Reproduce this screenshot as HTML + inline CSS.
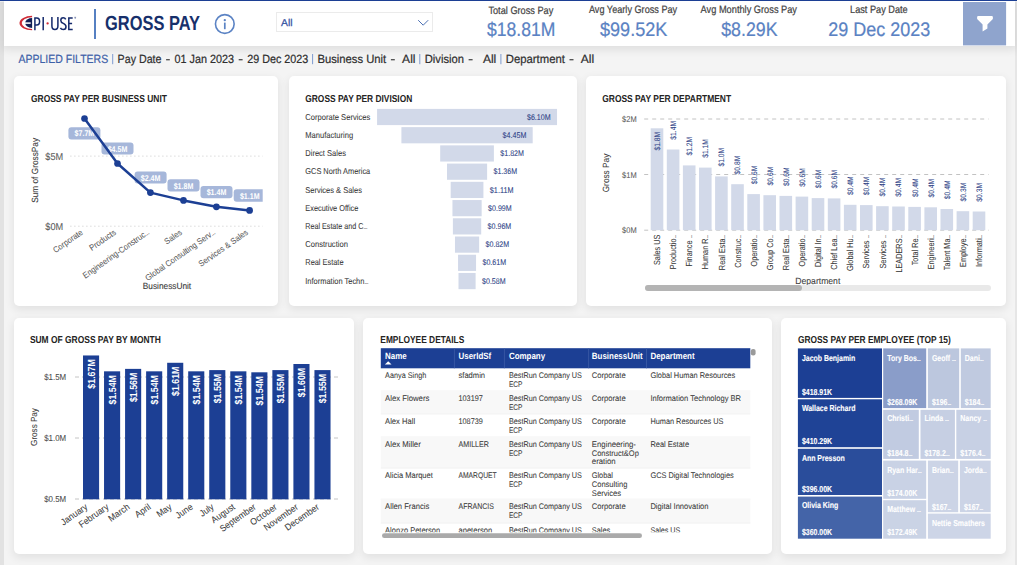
<!DOCTYPE html>
<html lang="en"><head><meta charset="utf-8"><title>Gross Pay</title>
<style>
html,body{margin:0;padding:0;background:#f4f4f4;}
body{width:1017px;height:565px;overflow:hidden;font-family:"Liberation Sans",sans-serif;}
.page{position:relative;width:1017px;height:565px;background:#f4f4f4;overflow:hidden;}
.edgeL{position:absolute;left:0;top:2px;width:3.5px;height:563px;background:#e2e2e2;}
.edgeR{position:absolute;left:1015.3px;top:2px;width:2px;height:563px;background:#e6e6e6;}
.hdr{position:absolute;left:3.5px;top:0;width:1011.8px;height:45.6px;background:#fff;box-shadow:0 2px 8px 2px rgba(0,0,0,.085);}
.topline{position:absolute;left:0;top:0;width:1017px;height:1.3px;background:#1c3f94;}
.card{position:absolute;background:#fff;border-radius:5px;box-shadow:0 3px 8px 1px rgba(0,0,0,.075);}
svg{position:absolute;left:0;top:0;}
svg text{font-family:"Liberation Sans",sans-serif;white-space:pre;text-rendering:geometricPrecision;}
</style></head><body>
<div class="page">
<div class="edgeL"></div><div class="edgeR"></div>
<div class="hdr"></div>
<div class="topline"></div>
<div class="card" style="left:14.3px;top:76px;width:263.5px;height:230px"></div>
<div class="card" style="left:289px;top:76px;width:288px;height:230px"></div>
<div class="card" style="left:586px;top:76px;width:420.3px;height:230px"></div>
<div class="card" style="left:13.5px;top:318px;width:340.5px;height:235.6px"></div>
<div class="card" style="left:363px;top:318px;width:409.3px;height:235.6px"></div>
<div class="card" style="left:781.2px;top:318px;width:225px;height:235.6px"></div>
<svg width="1017" height="565" viewBox="0 0 1017 565">
<g id="logo">
<path d="M32.1,15.8 A12.6,7.25 0 0 0 32.1,30.3 L32.1,28.9 A10.4,5.85 0 0 1 32.1,17.2 Z" fill="#cf2a35"/>
<path d="M32.1,18.1 A6.9,4.95 0 0 0 32.1,28 Z" fill="#111f55"/>
<rect x="24.40" y="22.35" width="6.30" height="1.50" fill="#fff"/>
<g fill="none" stroke="#14296b" stroke-width="1.5">
<path d="M34.9,30.3 V17.9 H36.7 Q39.6,17.9 39.6,21.4 Q39.6,24.9 36.7,24.9 H34.9"/>
<path d="M43.2,17.1 V30.3"/>
<path d="M51.9,17.1 V26 Q51.9,29.5 54.9,29.5 Q57.9,29.5 57.9,26 V17.1"/>
<path d="M65.7,19.4 Q65,17.8 63.2,17.8 Q60.8,17.8 60.8,20.4 Q60.8,22.4 63.3,23.4 Q66,24.5 66,26.8 Q66,29.6 63.3,29.6 Q61.2,29.6 60.4,27.9"/>
<path d="M72.7,17.9 H68.8 V29.5 H72.7 M68.8,23.5 H72.1"/>
</g>
<circle cx="47.6" cy="23.4" r="1.15" fill="#cf2a35"/>
<path d="M74.3,17.3 h1.8 M75.2,17.3 v1.7" stroke="#14296b" stroke-width="0.45" fill="none"/>
</g>
<rect x="94.00" y="9.00" width="2.00" height="30.00" fill="#5680c2"/>
<text transform="translate(105.00,30.30) scale(0.8057,1)" font-size="20.4" fill="#17306b" font-weight="700">GROSS PAY</text>
<circle cx="224.8" cy="24" r="9.35" fill="none" stroke="#5b83c4" stroke-width="1.6"/>
<circle cx="224.8" cy="20.2" r="1.15" fill="#5b83c4"/>
<rect x="223.95" y="22.60" width="1.70" height="6.60" fill="#5b83c4"/>
<rect x="276.5" y="12.5" width="156" height="19" fill="#fff" stroke="#ebebeb" stroke-width="1"/>
<text transform="translate(281.00,25.70) scale(1.0347,1)" font-size="10" fill="#33519f" stroke="#33519f" stroke-width="0.25">All</text>
<path d="M418.2,20.2 L423.2,25.2 L428.2,20.2" fill="none" stroke="#4b6fb3" stroke-width="1"/>
<text transform="translate(488.40,13.80) scale(0.8607,1)" font-size="10.7" fill="#454545" stroke="#454545" stroke-width="0.22">Total Gross Pay</text>
<text transform="translate(487.10,35.80) scale(0.8954,1)" font-size="19.6" fill="#5a82c3" stroke="#5a82c3" stroke-width="0.22">$18.81M</text>
<text transform="translate(588.90,13.00) scale(0.8558,1)" font-size="10.7" fill="#454545" stroke="#454545" stroke-width="0.22">Avg Yearly Gross Pay</text>
<text transform="translate(600.00,35.60) scale(0.9230,1)" font-size="19.6" fill="#5a82c3" stroke="#5a82c3" stroke-width="0.22">$99.52K</text>
<text transform="translate(700.60,13.00) scale(0.8647,1)" font-size="10.7" fill="#454545" stroke="#454545" stroke-width="0.22">Avg Monthly Gross Pay</text>
<text transform="translate(721.20,35.50) scale(0.9063,1)" font-size="19.6" fill="#5a82c3" stroke="#5a82c3" stroke-width="0.22">$8.29K</text>
<text transform="translate(850.10,13.00) scale(0.8570,1)" font-size="10.7" fill="#454545" stroke="#454545" stroke-width="0.22">Last Pay Date</text>
<text transform="translate(828.30,35.50) scale(0.9168,1)" font-size="19.6" fill="#5a82c3" stroke="#5a82c3" stroke-width="0.22">29 Dec 2023</text>
<rect x="963.00" y="2.00" width="43.10" height="43.40" fill="#8fa4cd"/>
<path d="M978.2,16 H991.8 Q992.9,16 992.9,17.2 V18.4 Q992.9,19 992.4,19.5 L987.4,24.4 V28.6 L982.6,31.4 V24.4 L977.6,19.5 Q977.1,19 977.1,18.4 V17.2 Q977.1,16 978.2,16 Z" fill="#fff"/>
<text transform="translate(18.50,63.10) scale(0.8827,1)" font-size="11.9" fill="#3d60a8" stroke="#3d60a8" stroke-width="0.22">APPLIED FILTERS</text>
<rect x="112.20" y="54.00" width="1.00" height="10.20" fill="#7d9bd0"/>
<text transform="translate(117.60,63.10) scale(0.8969,1)" font-size="11.9" fill="#2f2f2f" stroke="#2f2f2f" stroke-width="0.22">Pay Date</text>
<rect x="166.10" y="59.20" width="3.70" height="1.10" fill="#2f2f2f"/>
<text transform="translate(174.60,63.10) scale(0.9083,1)" font-size="11.9" fill="#2f2f2f" stroke="#2f2f2f" stroke-width="0.22">01 Jan 2023</text>
<rect x="238.70" y="59.20" width="3.90" height="1.10" fill="#2f2f2f"/>
<text transform="translate(247.20,63.10) scale(0.9039,1)" font-size="11.9" fill="#2f2f2f" stroke="#2f2f2f" stroke-width="0.22">29 Dec 2023</text>
<rect x="312.10" y="54.00" width="1.00" height="10.20" fill="#7d9bd0"/>
<text transform="translate(317.40,63.10) scale(0.9470,1)" font-size="11.9" fill="#2f2f2f" stroke="#2f2f2f" stroke-width="0.22">Business Unit</text>
<rect x="390.90" y="59.20" width="3.90" height="1.10" fill="#2f2f2f"/>
<text transform="translate(402.10,63.10) scale(1.0132,1)" font-size="11.9" fill="#2f2f2f" stroke="#2f2f2f" stroke-width="0.22">All</text>
<rect x="419.30" y="54.00" width="1.00" height="10.20" fill="#7d9bd0"/>
<text transform="translate(424.70,63.10) scale(0.9433,1)" font-size="11.9" fill="#2f2f2f" stroke="#2f2f2f" stroke-width="0.22">Division</text>
<rect x="468.60" y="59.20" width="4.00" height="1.10" fill="#2f2f2f"/>
<text transform="translate(482.90,63.10) scale(1.0132,1)" font-size="11.9" fill="#2f2f2f" stroke="#2f2f2f" stroke-width="0.22">All</text>
<rect x="500.40" y="54.00" width="1.00" height="10.20" fill="#7d9bd0"/>
<text transform="translate(505.80,63.10) scale(0.9505,1)" font-size="11.9" fill="#2f2f2f" stroke="#2f2f2f" stroke-width="0.22">Department</text>
<rect x="569.50" y="59.20" width="4.00" height="1.10" fill="#2f2f2f"/>
<text transform="translate(580.80,63.10) scale(1.0132,1)" font-size="11.9" fill="#2f2f2f" stroke="#2f2f2f" stroke-width="0.22">All</text>
<text transform="translate(31.00,102.00) scale(0.8365,1)" font-size="10.1" fill="#252423" font-weight="700">GROSS PAY PER BUSINESS UNIT</text>
<line x1="70.40" y1="156.10" x2="262.70" y2="156.10" stroke="#c8c8c8" stroke-width="1" stroke-dasharray="1 3"/>
<line x1="70.40" y1="226.20" x2="262.70" y2="226.20" stroke="#c8c8c8" stroke-width="1" stroke-dasharray="1 3"/>
<text transform="translate(63.20,159.50) scale(0.9200,1)" font-size="10" fill="#5a5a5a" text-anchor="end" stroke="#5a5a5a" stroke-width="0.08">$5M</text>
<text transform="translate(63.20,229.60) scale(0.9200,1)" font-size="10" fill="#5a5a5a" text-anchor="end" stroke="#5a5a5a" stroke-width="0.08">$0M</text>
<text transform="translate(38.20,170.40) rotate(-90) scale(0.9200,1)" font-size="9" fill="#3a3a3a" text-anchor="middle" stroke="#3a3a3a" stroke-width="0.1">Sum of GrossPay</text>
<clipPath id="c1clip"><rect x="60" y="100" width="202.7" height="140"/></clipPath>
<g clip-path="url(#c1clip)">
<rect x="68.40" y="127.30" width="32.00" height="12.10" fill="#a6b7da" rx="3"/>
<text transform="translate(84.40,136.40) scale(0.8438,1)" font-size="8.4" fill="#fff" text-anchor="middle" font-weight="700">$7.7M</text>
<rect x="101.50" y="142.40" width="32.00" height="12.10" fill="#a6b7da" rx="3"/>
<text transform="translate(117.50,151.50) scale(0.8438,1)" font-size="8.4" fill="#fff" text-anchor="middle" font-weight="700">$4.5M</text>
<rect x="134.60" y="171.50" width="32.00" height="12.10" fill="#a6b7da" rx="3"/>
<text transform="translate(150.60,180.60) scale(0.8438,1)" font-size="8.4" fill="#fff" text-anchor="middle" font-weight="700">$2.4M</text>
<rect x="167.50" y="179.30" width="32.00" height="12.20" fill="#a6b7da" rx="3"/>
<text transform="translate(183.50,188.50) scale(0.8438,1)" font-size="8.4" fill="#fff" text-anchor="middle" font-weight="700">$1.8M</text>
<rect x="200.50" y="186.00" width="32.00" height="12.30" fill="#a6b7da" rx="3"/>
<text transform="translate(216.50,195.30) scale(0.8438,1)" font-size="8.4" fill="#fff" text-anchor="middle" font-weight="700">$1.4M</text>
<rect x="233.70" y="189.30" width="32.00" height="12.40" fill="#a6b7da" rx="3"/>
<text transform="translate(249.70,198.70) scale(0.8438,1)" font-size="8.4" fill="#fff" text-anchor="middle" font-weight="700">$1.1M</text>
</g>
<path d="M84.5,118.5 L117.5,163.5 L150.4,192.6 L183.5,200.4 L216.4,206.8 L249.6,210.4" fill="none" stroke="#1c3f94" stroke-width="2.5" stroke-linejoin="round"/>
<circle cx="84.5" cy="118.5" r="3.35" fill="#1c3f94"/>
<circle cx="117.5" cy="163.5" r="3.35" fill="#1c3f94"/>
<circle cx="150.4" cy="192.6" r="3.35" fill="#1c3f94"/>
<circle cx="183.5" cy="200.4" r="3.35" fill="#1c3f94"/>
<circle cx="216.4" cy="206.8" r="3.35" fill="#1c3f94"/>
<circle cx="249.6" cy="210.4" r="3.35" fill="#1c3f94"/>
<text transform="translate(83.60,233.70) rotate(-35) scale(0.9050,1)" font-size="8.5" fill="#5a5a5a" text-anchor="end" stroke="#5a5a5a" stroke-width="0.05">Corporate</text>
<text transform="translate(116.60,233.70) rotate(-35) scale(0.9050,1)" font-size="8.5" fill="#5a5a5a" text-anchor="end" stroke="#5a5a5a" stroke-width="0.05">Products</text>
<text transform="translate(149.50,233.70) rotate(-35) scale(0.9050,1)" font-size="8.5" fill="#5a5a5a" text-anchor="end" stroke="#5a5a5a" stroke-width="0.05">Engineering-Construc<tspan font-size="6.12" letter-spacing="-0.2">...</tspan></text>
<text transform="translate(182.60,233.70) rotate(-35) scale(0.9050,1)" font-size="8.5" fill="#5a5a5a" text-anchor="end" stroke="#5a5a5a" stroke-width="0.05">Sales</text>
<text transform="translate(215.50,233.70) rotate(-35) scale(0.9050,1)" font-size="8.5" fill="#5a5a5a" text-anchor="end" stroke="#5a5a5a" stroke-width="0.05">Global Consulting Serv<tspan font-size="6.12" letter-spacing="-0.2">...</tspan></text>
<text transform="translate(248.70,233.70) rotate(-35) scale(0.9050,1)" font-size="8.5" fill="#5a5a5a" text-anchor="end" stroke="#5a5a5a" stroke-width="0.05">Services &amp; Sales</text>
<text transform="translate(167.00,288.60) scale(0.9200,1)" font-size="9" fill="#3a3a3a" text-anchor="middle" stroke="#3a3a3a" stroke-width="0.12">BusinessUnit</text>
<text transform="translate(305.30,102.00) scale(0.8300,1)" font-size="10.1" fill="#252423" font-weight="700">GROSS PAY PER DIVISION</text>
<rect x="377.08" y="108.90" width="179.95" height="16.20" fill="#d2d9e9"/>
<text transform="translate(305.30,119.60) scale(0.8920,1)" font-size="8.5" fill="#3a3a3a" stroke="#3a3a3a" stroke-width="0.07">Corporate Services</text>
<text transform="translate(550.62,119.60) scale(0.8665,1)" font-size="8.2" fill="#2d3f86" text-anchor="end" stroke="#2d3f86" stroke-width="0.07">$6.10M</text>
<rect x="401.41" y="127.13" width="131.28" height="16.20" fill="#d2d9e9"/>
<text transform="translate(305.30,137.83) scale(0.8874,1)" font-size="8.5" fill="#3a3a3a" stroke="#3a3a3a" stroke-width="0.07">Manufacturing</text>
<text transform="translate(526.29,137.83) scale(0.8665,1)" font-size="8.2" fill="#2d3f86" text-anchor="end" stroke="#2d3f86" stroke-width="0.07">$4.45M</text>
<rect x="440.20" y="145.36" width="53.69" height="16.20" fill="#d2d9e9"/>
<text transform="translate(305.30,156.06) scale(0.8860,1)" font-size="8.5" fill="#3a3a3a" stroke="#3a3a3a" stroke-width="0.07">Direct Sales</text>
<text transform="translate(500.30,156.06) scale(0.8665,1)" font-size="8.2" fill="#2d3f86" stroke="#2d3f86" stroke-width="0.07">$1.82M</text>
<rect x="446.99" y="163.59" width="40.12" height="16.20" fill="#d2d9e9"/>
<text transform="translate(305.30,174.29) scale(0.8696,1)" font-size="8.5" fill="#3a3a3a" stroke="#3a3a3a" stroke-width="0.07">GCS North America</text>
<text transform="translate(493.51,174.29) scale(0.8665,1)" font-size="8.2" fill="#2d3f86" stroke="#2d3f86" stroke-width="0.07">$1.36M</text>
<rect x="450.68" y="181.82" width="32.75" height="16.20" fill="#d2d9e9"/>
<text transform="translate(305.30,192.52) scale(0.8809,1)" font-size="8.5" fill="#3a3a3a" stroke="#3a3a3a" stroke-width="0.07">Services &amp; Sales</text>
<text transform="translate(489.82,192.52) scale(0.8862,1)" font-size="8.2" fill="#2d3f86" stroke="#2d3f86" stroke-width="0.07">$1.11M</text>
<rect x="452.45" y="200.05" width="29.20" height="16.20" fill="#d2d9e9"/>
<text transform="translate(305.30,210.75) scale(0.8652,1)" font-size="8.5" fill="#3a3a3a" stroke="#3a3a3a" stroke-width="0.07">Executive Office</text>
<text transform="translate(488.05,210.75) scale(0.8665,1)" font-size="8.2" fill="#2d3f86" stroke="#2d3f86" stroke-width="0.07">$0.99M</text>
<rect x="452.89" y="218.28" width="28.32" height="16.20" fill="#d2d9e9"/>
<text transform="translate(305.30,228.98) scale(0.8427,1)" font-size="8.5" fill="#3a3a3a" stroke="#3a3a3a" stroke-width="0.07">Real Estate and C<tspan font-size="6.12" letter-spacing="-0.2">...</tspan></text>
<text transform="translate(487.61,228.98) scale(0.8665,1)" font-size="8.2" fill="#2d3f86" stroke="#2d3f86" stroke-width="0.07">$0.96M</text>
<rect x="454.96" y="236.51" width="24.19" height="16.20" fill="#d2d9e9"/>
<text transform="translate(305.30,247.21) scale(0.8927,1)" font-size="8.5" fill="#3a3a3a" stroke="#3a3a3a" stroke-width="0.07">Construction</text>
<text transform="translate(485.54,247.21) scale(0.8665,1)" font-size="8.2" fill="#2d3f86" stroke="#2d3f86" stroke-width="0.07">$0.82M</text>
<rect x="458.05" y="254.74" width="18.00" height="16.20" fill="#d2d9e9"/>
<text transform="translate(305.30,265.44) scale(0.8693,1)" font-size="8.5" fill="#3a3a3a" stroke="#3a3a3a" stroke-width="0.07">Real Estate</text>
<text transform="translate(482.45,265.44) scale(0.8665,1)" font-size="8.2" fill="#2d3f86" stroke="#2d3f86" stroke-width="0.07">$0.61M</text>
<rect x="458.50" y="272.97" width="17.11" height="16.20" fill="#d2d9e9"/>
<text transform="translate(305.30,283.67) scale(0.8766,1)" font-size="8.5" fill="#3a3a3a" stroke="#3a3a3a" stroke-width="0.07">Information Techn<tspan font-size="6.12" letter-spacing="-0.2">...</tspan></text>
<text transform="translate(482.00,283.67) scale(0.8665,1)" font-size="8.2" fill="#2d3f86" stroke="#2d3f86" stroke-width="0.07">$0.58M</text>
<text transform="translate(602.20,102.00) scale(0.8378,1)" font-size="10.1" fill="#252423" font-weight="700">GROSS PAY PER DEPARTMENT</text>
<line x1="644.20" y1="119.00" x2="988.70" y2="119.00" stroke="#c2c2c2" stroke-width="1" stroke-dasharray="4 4"/>
<line x1="644.20" y1="174.50" x2="988.70" y2="174.50" stroke="#c2c2c2" stroke-width="1" stroke-dasharray="4 4"/>
<line x1="644.20" y1="230.20" x2="988.70" y2="230.20" stroke="#c2c2c2" stroke-width="1" stroke-dasharray="4 4"/>
<text transform="translate(636.60,121.70) scale(0.9000,1)" font-size="8.3" fill="#5a5a5a" text-anchor="end" stroke="#5a5a5a" stroke-width="0.07">$2M</text>
<text transform="translate(636.60,177.60) scale(0.9000,1)" font-size="8.3" fill="#5a5a5a" text-anchor="end" stroke="#5a5a5a" stroke-width="0.07">$1M</text>
<text transform="translate(636.60,233.20) scale(0.9000,1)" font-size="8.3" fill="#5a5a5a" text-anchor="end" stroke="#5a5a5a" stroke-width="0.07">$0M</text>
<text transform="translate(609.00,173.00) rotate(-90) scale(0.9200,1)" font-size="9" fill="#3a3a3a" text-anchor="middle" stroke="#3a3a3a" stroke-width="0.07">Gross Pay</text>
<rect x="650.70" y="128.30" width="12.60" height="101.90" fill="#d2d9e9"/>
<text transform="translate(659.90,150.60) rotate(-90) scale(0.8410,1)" font-size="8" fill="#2d3f86" stroke="#2d3f86" stroke-width="0.07">$1.8M</text>
<text transform="translate(660.10,234.60) rotate(-90) scale(0.8300,1)" font-size="8.8" fill="#3a3a3a" text-anchor="end" stroke="#3a3a3a" stroke-width="0.07">Sales US</text>
<rect x="666.80" y="149.50" width="12.60" height="80.70" fill="#d2d9e9"/>
<text transform="translate(676.00,139.70) rotate(-90) scale(0.8410,1)" font-size="8" fill="#2d3f86" stroke="#2d3f86" stroke-width="0.07">$1.4M</text>
<text transform="translate(676.20,234.60) rotate(-90) scale(0.8300,1)" font-size="8.8" fill="#3a3a3a" text-anchor="end" stroke="#3a3a3a" stroke-width="0.07">Productio<tspan font-size="6.34" letter-spacing="-0.2">...</tspan></text>
<rect x="682.90" y="165.40" width="12.60" height="64.80" fill="#d2d9e9"/>
<text transform="translate(692.10,155.60) rotate(-90) scale(0.8410,1)" font-size="8" fill="#2d3f86" stroke="#2d3f86" stroke-width="0.07">$1.2M</text>
<text transform="translate(692.30,234.60) rotate(-90) scale(0.8300,1)" font-size="8.8" fill="#3a3a3a" text-anchor="end" stroke="#3a3a3a" stroke-width="0.07">Finance <tspan font-size="6.34" letter-spacing="-0.2">...</tspan></text>
<rect x="699.00" y="167.60" width="12.60" height="62.60" fill="#d2d9e9"/>
<text transform="translate(708.20,157.80) rotate(-90) scale(0.8410,1)" font-size="8" fill="#2d3f86" stroke="#2d3f86" stroke-width="0.07">$1.1M</text>
<text transform="translate(708.40,234.60) rotate(-90) scale(0.8300,1)" font-size="8.8" fill="#3a3a3a" text-anchor="end" stroke="#3a3a3a" stroke-width="0.07">Human R<tspan font-size="6.34" letter-spacing="-0.2">...</tspan></text>
<rect x="715.10" y="176.40" width="12.60" height="53.80" fill="#d2d9e9"/>
<text transform="translate(724.30,166.60) rotate(-90) scale(0.8410,1)" font-size="8" fill="#2d3f86" stroke="#2d3f86" stroke-width="0.07">$1.0M</text>
<text transform="translate(724.50,234.60) rotate(-90) scale(0.8300,1)" font-size="8.8" fill="#3a3a3a" text-anchor="end" stroke="#3a3a3a" stroke-width="0.07">Real Esta<tspan font-size="6.34" letter-spacing="-0.2">...</tspan></text>
<rect x="731.20" y="184.20" width="12.60" height="46.00" fill="#d2d9e9"/>
<text transform="translate(740.40,174.40) rotate(-90) scale(0.8410,1)" font-size="8" fill="#2d3f86" stroke="#2d3f86" stroke-width="0.07">$0.8M</text>
<text transform="translate(740.60,234.60) rotate(-90) scale(0.8300,1)" font-size="8.8" fill="#3a3a3a" text-anchor="end" stroke="#3a3a3a" stroke-width="0.07">Construc<tspan font-size="6.34" letter-spacing="-0.2">...</tspan></text>
<rect x="747.30" y="194.10" width="12.60" height="36.10" fill="#d2d9e9"/>
<text transform="translate(756.50,184.30) rotate(-90) scale(0.8410,1)" font-size="8" fill="#2d3f86" stroke="#2d3f86" stroke-width="0.07">$0.6M</text>
<text transform="translate(756.70,234.60) rotate(-90) scale(0.8300,1)" font-size="8.8" fill="#3a3a3a" text-anchor="end" stroke="#3a3a3a" stroke-width="0.07">Operatio<tspan font-size="6.34" letter-spacing="-0.2">...</tspan></text>
<rect x="763.40" y="195.20" width="12.60" height="35.00" fill="#d2d9e9"/>
<text transform="translate(772.60,185.40) rotate(-90) scale(0.8410,1)" font-size="8" fill="#2d3f86" stroke="#2d3f86" stroke-width="0.07">$0.6M</text>
<text transform="translate(772.80,234.60) rotate(-90) scale(0.8300,1)" font-size="8.8" fill="#3a3a3a" text-anchor="end" stroke="#3a3a3a" stroke-width="0.07">Group Co<tspan font-size="6.34" letter-spacing="-0.2">...</tspan></text>
<rect x="779.50" y="195.90" width="12.60" height="34.30" fill="#d2d9e9"/>
<text transform="translate(788.70,186.10) rotate(-90) scale(0.8410,1)" font-size="8" fill="#2d3f86" stroke="#2d3f86" stroke-width="0.07">$0.6M</text>
<text transform="translate(788.90,234.60) rotate(-90) scale(0.8300,1)" font-size="8.8" fill="#3a3a3a" text-anchor="end" stroke="#3a3a3a" stroke-width="0.07">Real Esta<tspan font-size="6.34" letter-spacing="-0.2">...</tspan></text>
<rect x="795.60" y="196.60" width="12.60" height="33.60" fill="#d2d9e9"/>
<text transform="translate(804.80,186.80) rotate(-90) scale(0.8410,1)" font-size="8" fill="#2d3f86" stroke="#2d3f86" stroke-width="0.07">$0.6M</text>
<text transform="translate(805.00,234.60) rotate(-90) scale(0.8300,1)" font-size="8.8" fill="#3a3a3a" text-anchor="end" stroke="#3a3a3a" stroke-width="0.07">Operatio<tspan font-size="6.34" letter-spacing="-0.2">...</tspan></text>
<rect x="811.70" y="198.10" width="12.60" height="32.10" fill="#d2d9e9"/>
<text transform="translate(820.90,188.30) rotate(-90) scale(0.8410,1)" font-size="8" fill="#2d3f86" stroke="#2d3f86" stroke-width="0.07">$0.6M</text>
<text transform="translate(821.10,234.60) rotate(-90) scale(0.8300,1)" font-size="8.8" fill="#3a3a3a" text-anchor="end" stroke="#3a3a3a" stroke-width="0.07">Digital In<tspan font-size="6.34" letter-spacing="-0.2">...</tspan></text>
<rect x="827.80" y="198.40" width="12.60" height="31.80" fill="#d2d9e9"/>
<text transform="translate(837.00,188.60) rotate(-90) scale(0.8410,1)" font-size="8" fill="#2d3f86" stroke="#2d3f86" stroke-width="0.07">$0.6M</text>
<text transform="translate(837.20,234.60) rotate(-90) scale(0.8300,1)" font-size="8.8" fill="#3a3a3a" text-anchor="end" stroke="#3a3a3a" stroke-width="0.07">Chief Lea<tspan font-size="6.34" letter-spacing="-0.2">...</tspan></text>
<rect x="843.90" y="204.80" width="12.60" height="25.40" fill="#d2d9e9"/>
<text transform="translate(853.10,195.00) rotate(-90) scale(0.8410,1)" font-size="8" fill="#2d3f86" stroke="#2d3f86" stroke-width="0.07">$0.4M</text>
<text transform="translate(853.30,234.60) rotate(-90) scale(0.8300,1)" font-size="8.8" fill="#3a3a3a" text-anchor="end" stroke="#3a3a3a" stroke-width="0.07">Global Hu<tspan font-size="6.34" letter-spacing="-0.2">...</tspan></text>
<rect x="860.00" y="205.10" width="12.60" height="25.10" fill="#d2d9e9"/>
<text transform="translate(869.20,195.30) rotate(-90) scale(0.8410,1)" font-size="8" fill="#2d3f86" stroke="#2d3f86" stroke-width="0.07">$0.4M</text>
<text transform="translate(869.40,234.60) rotate(-90) scale(0.8300,1)" font-size="8.8" fill="#3a3a3a" text-anchor="end" stroke="#3a3a3a" stroke-width="0.07">Services <tspan font-size="6.34" letter-spacing="-0.2">...</tspan></text>
<rect x="876.10" y="206.20" width="12.60" height="24.00" fill="#d2d9e9"/>
<text transform="translate(885.30,196.40) rotate(-90) scale(0.8410,1)" font-size="8" fill="#2d3f86" stroke="#2d3f86" stroke-width="0.07">$0.4M</text>
<text transform="translate(885.50,234.60) rotate(-90) scale(0.8300,1)" font-size="8.8" fill="#3a3a3a" text-anchor="end" stroke="#3a3a3a" stroke-width="0.07">Services <tspan font-size="6.34" letter-spacing="-0.2">...</tspan></text>
<rect x="892.20" y="206.50" width="12.60" height="23.70" fill="#d2d9e9"/>
<text transform="translate(901.40,196.70) rotate(-90) scale(0.8410,1)" font-size="8" fill="#2d3f86" stroke="#2d3f86" stroke-width="0.07">$0.4M</text>
<text transform="translate(901.60,234.60) rotate(-90) scale(0.8300,1)" font-size="8.8" fill="#3a3a3a" text-anchor="end" stroke="#3a3a3a" stroke-width="0.07">LEADERS<tspan font-size="6.34" letter-spacing="-0.2">...</tspan></text>
<rect x="908.30" y="206.90" width="12.60" height="23.30" fill="#d2d9e9"/>
<text transform="translate(917.50,197.10) rotate(-90) scale(0.8410,1)" font-size="8" fill="#2d3f86" stroke="#2d3f86" stroke-width="0.07">$0.4M</text>
<text transform="translate(917.70,234.60) rotate(-90) scale(0.8300,1)" font-size="8.8" fill="#3a3a3a" text-anchor="end" stroke="#3a3a3a" stroke-width="0.07">Total Re<tspan font-size="6.34" letter-spacing="-0.2">...</tspan></text>
<rect x="924.40" y="207.30" width="12.60" height="22.90" fill="#d2d9e9"/>
<text transform="translate(933.60,197.50) rotate(-90) scale(0.8410,1)" font-size="8" fill="#2d3f86" stroke="#2d3f86" stroke-width="0.07">$0.4M</text>
<text transform="translate(933.80,234.60) rotate(-90) scale(0.8300,1)" font-size="8.8" fill="#3a3a3a" text-anchor="end" stroke="#3a3a3a" stroke-width="0.07">Engineeri<tspan font-size="6.34" letter-spacing="-0.2">...</tspan></text>
<rect x="940.50" y="209.00" width="12.60" height="21.20" fill="#d2d9e9"/>
<text transform="translate(949.70,199.20) rotate(-90) scale(0.8410,1)" font-size="8" fill="#2d3f86" stroke="#2d3f86" stroke-width="0.07">$0.4M</text>
<text transform="translate(949.90,234.60) rotate(-90) scale(0.8300,1)" font-size="8.8" fill="#3a3a3a" text-anchor="end" stroke="#3a3a3a" stroke-width="0.07">Talent Ma<tspan font-size="6.34" letter-spacing="-0.2">...</tspan></text>
<rect x="956.60" y="211.20" width="12.60" height="19.00" fill="#d2d9e9"/>
<text transform="translate(965.80,201.40) rotate(-90) scale(0.8410,1)" font-size="8" fill="#2d3f86" stroke="#2d3f86" stroke-width="0.07">$0.3M</text>
<text transform="translate(966.00,234.60) rotate(-90) scale(0.8300,1)" font-size="8.8" fill="#3a3a3a" text-anchor="end" stroke="#3a3a3a" stroke-width="0.07">Employe<tspan font-size="6.34" letter-spacing="-0.2">...</tspan></text>
<rect x="972.70" y="211.50" width="12.60" height="18.70" fill="#d2d9e9"/>
<text transform="translate(981.90,201.70) rotate(-90) scale(0.8410,1)" font-size="8" fill="#2d3f86" stroke="#2d3f86" stroke-width="0.07">$0.3M</text>
<text transform="translate(982.10,234.60) rotate(-90) scale(0.8300,1)" font-size="8.8" fill="#3a3a3a" text-anchor="end" stroke="#3a3a3a" stroke-width="0.07">Informati<tspan font-size="6.34" letter-spacing="-0.2">...</tspan></text>
<text transform="translate(817.80,284.00) scale(0.9570,1)" font-size="9" fill="#3a3a3a" text-anchor="middle" stroke="#3a3a3a" stroke-width="0.07">Department</text>
<rect x="645.00" y="285.10" width="346.00" height="6.00" fill="#e9e9e9" rx="3"/>
<rect x="645.00" y="285.10" width="157.00" height="6.00" fill="#b4b4b4" rx="3"/>
<text transform="translate(29.90,343.10) scale(0.8356,1)" font-size="10.1" fill="#252423" font-weight="700">SUM OF GROSS PAY BY MONTH</text>
<line x1="75.00" y1="377.00" x2="339.20" y2="377.00" stroke="#c4c4c4" stroke-width="1" stroke-dasharray="4 3"/>
<text transform="translate(66.20,380.20) scale(0.9200,1)" font-size="8.6" fill="#4d4d4d" text-anchor="end" stroke="#4d4d4d" stroke-width="0.07">$1.5M</text>
<line x1="75.00" y1="438.00" x2="339.20" y2="438.00" stroke="#c4c4c4" stroke-width="1" stroke-dasharray="4 3"/>
<text transform="translate(66.20,441.20) scale(0.9200,1)" font-size="8.6" fill="#4d4d4d" text-anchor="end" stroke="#4d4d4d" stroke-width="0.07">$1.0M</text>
<line x1="75.00" y1="499.00" x2="339.20" y2="499.00" stroke="#c4c4c4" stroke-width="1" stroke-dasharray="4 3"/>
<text transform="translate(66.20,502.20) scale(0.9200,1)" font-size="8.6" fill="#4d4d4d" text-anchor="end" stroke="#4d4d4d" stroke-width="0.07">$0.5M</text>
<text transform="translate(37.20,427.00) rotate(-90) scale(0.9200,1)" font-size="8.8" fill="#3a3a3a" text-anchor="middle" stroke="#3a3a3a" stroke-width="0.07">Gross Pay</text>
<rect x="83.00" y="355.46" width="16.10" height="143.84" fill="#1c3f94"/>
<text transform="translate(94.95,388.66) rotate(-90) scale(0.8557,1)" font-size="10.3" fill="#fff" font-weight="700">$1.67M</text>
<text transform="translate(88.35,508.30) rotate(-35) scale(0.9300,1)" font-size="9.2" fill="#404040" text-anchor="end" stroke="#404040" stroke-width="0.07">January</text>
<rect x="104.04" y="371.32" width="16.10" height="127.98" fill="#1c3f94"/>
<text transform="translate(115.99,404.52) rotate(-90) scale(0.8557,1)" font-size="10.3" fill="#fff" font-weight="700">$1.54M</text>
<text transform="translate(109.39,508.30) rotate(-35) scale(0.9300,1)" font-size="9.2" fill="#404040" text-anchor="end" stroke="#404040" stroke-width="0.07">February</text>
<rect x="125.08" y="368.88" width="16.10" height="130.42" fill="#1c3f94"/>
<text transform="translate(137.03,402.08) rotate(-90) scale(0.8557,1)" font-size="10.3" fill="#fff" font-weight="700">$1.56M</text>
<text transform="translate(130.43,508.30) rotate(-35) scale(0.9300,1)" font-size="9.2" fill="#404040" text-anchor="end" stroke="#404040" stroke-width="0.07">March</text>
<rect x="146.12" y="371.32" width="16.10" height="127.98" fill="#1c3f94"/>
<text transform="translate(158.07,404.52) rotate(-90) scale(0.8557,1)" font-size="10.3" fill="#fff" font-weight="700">$1.54M</text>
<text transform="translate(151.47,508.30) rotate(-35) scale(0.9300,1)" font-size="9.2" fill="#404040" text-anchor="end" stroke="#404040" stroke-width="0.07">April</text>
<rect x="167.16" y="362.78" width="16.10" height="136.52" fill="#1c3f94"/>
<text transform="translate(179.11,395.98) rotate(-90) scale(0.8557,1)" font-size="10.3" fill="#fff" font-weight="700">$1.61M</text>
<text transform="translate(172.51,508.30) rotate(-35) scale(0.9300,1)" font-size="9.2" fill="#404040" text-anchor="end" stroke="#404040" stroke-width="0.07">May</text>
<rect x="188.20" y="371.32" width="16.10" height="127.98" fill="#1c3f94"/>
<text transform="translate(200.15,404.52) rotate(-90) scale(0.8557,1)" font-size="10.3" fill="#fff" font-weight="700">$1.54M</text>
<text transform="translate(193.55,508.30) rotate(-35) scale(0.9300,1)" font-size="9.2" fill="#404040" text-anchor="end" stroke="#404040" stroke-width="0.07">June</text>
<rect x="209.24" y="370.10" width="16.10" height="129.20" fill="#1c3f94"/>
<text transform="translate(221.19,403.30) rotate(-90) scale(0.8557,1)" font-size="10.3" fill="#fff" font-weight="700">$1.55M</text>
<text transform="translate(214.59,508.30) rotate(-35) scale(0.9300,1)" font-size="9.2" fill="#404040" text-anchor="end" stroke="#404040" stroke-width="0.07">July</text>
<rect x="230.28" y="371.32" width="16.10" height="127.98" fill="#1c3f94"/>
<text transform="translate(242.23,404.52) rotate(-90) scale(0.8557,1)" font-size="10.3" fill="#fff" font-weight="700">$1.54M</text>
<text transform="translate(235.63,508.30) rotate(-35) scale(0.9300,1)" font-size="9.2" fill="#404040" text-anchor="end" stroke="#404040" stroke-width="0.07">August</text>
<rect x="251.32" y="372.30" width="16.10" height="127.00" fill="#1c3f94"/>
<text transform="translate(263.27,405.50) rotate(-90) scale(0.8557,1)" font-size="10.3" fill="#fff" font-weight="700">$1.54M</text>
<text transform="translate(256.67,508.30) rotate(-35) scale(0.9300,1)" font-size="9.2" fill="#404040" text-anchor="end" stroke="#404040" stroke-width="0.07">September</text>
<rect x="272.36" y="370.10" width="16.10" height="129.20" fill="#1c3f94"/>
<text transform="translate(284.31,403.30) rotate(-90) scale(0.8557,1)" font-size="10.3" fill="#fff" font-weight="700">$1.55M</text>
<text transform="translate(277.71,508.30) rotate(-35) scale(0.9300,1)" font-size="9.2" fill="#404040" text-anchor="end" stroke="#404040" stroke-width="0.07">October</text>
<rect x="293.40" y="364.00" width="16.10" height="135.30" fill="#1c3f94"/>
<text transform="translate(305.35,397.20) rotate(-90) scale(0.8557,1)" font-size="10.3" fill="#fff" font-weight="700">$1.60M</text>
<text transform="translate(298.75,508.30) rotate(-35) scale(0.9300,1)" font-size="9.2" fill="#404040" text-anchor="end" stroke="#404040" stroke-width="0.07">November</text>
<rect x="314.44" y="370.10" width="16.10" height="129.20" fill="#1c3f94"/>
<text transform="translate(326.39,403.30) rotate(-90) scale(0.8557,1)" font-size="10.3" fill="#fff" font-weight="700">$1.55M</text>
<text transform="translate(319.79,508.30) rotate(-35) scale(0.9300,1)" font-size="9.2" fill="#404040" text-anchor="end" stroke="#404040" stroke-width="0.07">December</text>
<text transform="translate(380.30,343.10) scale(0.8285,1)" font-size="10.1" fill="#252423" font-weight="700">EMPLOYEE DETAILS</text>
<clipPath id="tclip"><rect x="380" y="348" width="371" height="184.3"/></clipPath>
<g clip-path="url(#tclip)">
<rect x="380.80" y="348.20" width="369.50" height="20.10" fill="#1c3f94"/>
<line x1="454.40" y1="348.20" x2="454.40" y2="368.30" stroke="#3d5ca6" stroke-width="0.8"/>
<line x1="504.40" y1="348.20" x2="504.40" y2="368.30" stroke="#3d5ca6" stroke-width="0.8"/>
<line x1="588.60" y1="348.20" x2="588.60" y2="368.30" stroke="#3d5ca6" stroke-width="0.8"/>
<line x1="646.50" y1="348.20" x2="646.50" y2="368.30" stroke="#3d5ca6" stroke-width="0.8"/>
<text transform="translate(385.10,359.20) scale(0.8750,1)" font-size="9.1" fill="#fff" font-weight="700">Name</text>
<text transform="translate(458.50,359.20) scale(0.8750,1)" font-size="9.1" fill="#fff" font-weight="700">UserIdSf</text>
<text transform="translate(508.90,359.20) scale(0.8750,1)" font-size="9.1" fill="#fff" font-weight="700">Company</text>
<text transform="translate(591.80,359.20) scale(0.8750,1)" font-size="9.1" fill="#fff" font-weight="700">BusinessUnit</text>
<text transform="translate(650.40,359.20) scale(0.8750,1)" font-size="9.1" fill="#fff" font-weight="700">Department</text>
<path d="M384.9,364.6 L388.2,361.3 L391.5,364.6 Z" fill="#fff"/>
<line x1="380.80" y1="391.00" x2="750.30" y2="391.00" stroke="#f0f0f0" stroke-width="0.8"/>
<text transform="translate(385.10,378.30) scale(0.8881,1)" font-size="8.2" fill="#3b3b3b" stroke="#3b3b3b" stroke-width="0.07">Aanya Singh</text>
<text transform="translate(458.50,378.30) scale(0.9264,1)" font-size="8.2" fill="#3b3b3b" stroke="#3b3b3b" stroke-width="0.07">sfadmin</text>
<text transform="translate(508.90,378.30) scale(0.8861,1)" font-size="8.2" fill="#3b3b3b" stroke="#3b3b3b" stroke-width="0.07">BestRun Company US</text>
<text transform="translate(508.90,386.90) scale(0.8066,1)" font-size="8.2" fill="#3b3b3b" stroke="#3b3b3b" stroke-width="0.07">ECP</text>
<text transform="translate(591.80,378.30) scale(0.9297,1)" font-size="8.2" fill="#3b3b3b" stroke="#3b3b3b" stroke-width="0.07">Corporate</text>
<text transform="translate(650.40,378.30) scale(0.9042,1)" font-size="8.2" fill="#3b3b3b" stroke="#3b3b3b" stroke-width="0.07">Global Human Resources</text>
<rect x="380.80" y="391.00" width="369.50" height="23.00" fill="#f8f8f8"/>
<line x1="380.80" y1="414.00" x2="750.30" y2="414.00" stroke="#f0f0f0" stroke-width="0.8"/>
<text transform="translate(385.10,401.10) scale(0.9439,1)" font-size="8.2" fill="#3b3b3b" stroke="#3b3b3b" stroke-width="0.07">Alex Flowers</text>
<text transform="translate(458.50,401.10) scale(0.8917,1)" font-size="8.2" fill="#3b3b3b" stroke="#3b3b3b" stroke-width="0.07">103197</text>
<text transform="translate(508.90,401.10) scale(0.8861,1)" font-size="8.2" fill="#3b3b3b" stroke="#3b3b3b" stroke-width="0.07">BestRun Company US</text>
<text transform="translate(508.90,409.70) scale(0.8066,1)" font-size="8.2" fill="#3b3b3b" stroke="#3b3b3b" stroke-width="0.07">ECP</text>
<text transform="translate(591.80,401.10) scale(0.9297,1)" font-size="8.2" fill="#3b3b3b" stroke="#3b3b3b" stroke-width="0.07">Corporate</text>
<text transform="translate(650.40,401.10) scale(0.9236,1)" font-size="8.2" fill="#3b3b3b" stroke="#3b3b3b" stroke-width="0.07">Information Technology BR</text>
<line x1="380.80" y1="437.00" x2="750.30" y2="437.00" stroke="#f0f0f0" stroke-width="0.8"/>
<text transform="translate(385.10,424.10) scale(0.9303,1)" font-size="8.2" fill="#3b3b3b" stroke="#3b3b3b" stroke-width="0.07">Alex Hall</text>
<text transform="translate(458.50,424.10) scale(0.8917,1)" font-size="8.2" fill="#3b3b3b" stroke="#3b3b3b" stroke-width="0.07">108739</text>
<text transform="translate(508.90,424.10) scale(0.8861,1)" font-size="8.2" fill="#3b3b3b" stroke="#3b3b3b" stroke-width="0.07">BestRun Company US</text>
<text transform="translate(508.90,432.70) scale(0.8066,1)" font-size="8.2" fill="#3b3b3b" stroke="#3b3b3b" stroke-width="0.07">ECP</text>
<text transform="translate(591.80,424.10) scale(0.9297,1)" font-size="8.2" fill="#3b3b3b" stroke="#3b3b3b" stroke-width="0.07">Corporate</text>
<text transform="translate(650.40,424.10) scale(0.8973,1)" font-size="8.2" fill="#3b3b3b" stroke="#3b3b3b" stroke-width="0.07">Human Resources US</text>
<rect x="380.80" y="437.00" width="369.50" height="31.20" fill="#f8f8f8"/>
<line x1="380.80" y1="468.20" x2="750.30" y2="468.20" stroke="#f0f0f0" stroke-width="0.8"/>
<text transform="translate(385.10,447.10) scale(0.9440,1)" font-size="8.2" fill="#3b3b3b" stroke="#3b3b3b" stroke-width="0.07">Alex Miller</text>
<text transform="translate(458.50,447.10) scale(0.8692,1)" font-size="8.2" fill="#3b3b3b" stroke="#3b3b3b" stroke-width="0.07">AMILLER</text>
<text transform="translate(508.90,447.10) scale(0.8861,1)" font-size="8.2" fill="#3b3b3b" stroke="#3b3b3b" stroke-width="0.07">BestRun Company US</text>
<text transform="translate(508.90,455.70) scale(0.8066,1)" font-size="8.2" fill="#3b3b3b" stroke="#3b3b3b" stroke-width="0.07">ECP</text>
<text transform="translate(591.80,447.10) scale(0.9505,1)" font-size="8.2" fill="#3b3b3b" stroke="#3b3b3b" stroke-width="0.07">Engineering-</text>
<text transform="translate(591.80,455.70) scale(0.9146,1)" font-size="8.2" fill="#3b3b3b" stroke="#3b3b3b" stroke-width="0.07">Construct&amp;Op</text>
<text transform="translate(591.80,464.30) scale(0.9532,1)" font-size="8.2" fill="#3b3b3b" stroke="#3b3b3b" stroke-width="0.07">eration</text>
<text transform="translate(650.40,447.10) scale(0.9129,1)" font-size="8.2" fill="#3b3b3b" stroke="#3b3b3b" stroke-width="0.07">Real Estate</text>
<line x1="380.80" y1="499.20" x2="750.30" y2="499.20" stroke="#f0f0f0" stroke-width="0.8"/>
<text transform="translate(385.10,478.30) scale(0.9200,1)" font-size="8.2" fill="#3b3b3b" stroke="#3b3b3b" stroke-width="0.07">Alicia Marquet</text>
<text transform="translate(458.50,478.30) scale(0.8220,1)" font-size="8.2" fill="#3b3b3b" stroke="#3b3b3b" stroke-width="0.07">AMARQUET</text>
<text transform="translate(508.90,478.30) scale(0.8861,1)" font-size="8.2" fill="#3b3b3b" stroke="#3b3b3b" stroke-width="0.07">BestRun Company US</text>
<text transform="translate(508.90,486.90) scale(0.8066,1)" font-size="8.2" fill="#3b3b3b" stroke="#3b3b3b" stroke-width="0.07">ECP</text>
<text transform="translate(591.80,478.30) scale(0.8944,1)" font-size="8.2" fill="#3b3b3b" stroke="#3b3b3b" stroke-width="0.07">Global</text>
<text transform="translate(591.80,486.90) scale(0.9188,1)" font-size="8.2" fill="#3b3b3b" stroke="#3b3b3b" stroke-width="0.07">Consulting</text>
<text transform="translate(591.80,495.50) scale(0.9318,1)" font-size="8.2" fill="#3b3b3b" stroke="#3b3b3b" stroke-width="0.07">Services</text>
<text transform="translate(650.40,478.30) scale(0.8995,1)" font-size="8.2" fill="#3b3b3b" stroke="#3b3b3b" stroke-width="0.07">GCS Digital Technologies</text>
<rect x="380.80" y="499.20" width="369.50" height="24.00" fill="#f8f8f8"/>
<line x1="380.80" y1="523.20" x2="750.30" y2="523.20" stroke="#f0f0f0" stroke-width="0.8"/>
<text transform="translate(385.10,509.30) scale(0.9326,1)" font-size="8.2" fill="#3b3b3b" stroke="#3b3b3b" stroke-width="0.07">Allen Francis</text>
<text transform="translate(458.50,509.30) scale(0.8538,1)" font-size="8.2" fill="#3b3b3b" stroke="#3b3b3b" stroke-width="0.07">AFRANCIS</text>
<text transform="translate(508.90,509.30) scale(0.8861,1)" font-size="8.2" fill="#3b3b3b" stroke="#3b3b3b" stroke-width="0.07">BestRun Company US</text>
<text transform="translate(508.90,517.90) scale(0.8066,1)" font-size="8.2" fill="#3b3b3b" stroke="#3b3b3b" stroke-width="0.07">ECP</text>
<text transform="translate(591.80,509.30) scale(0.9297,1)" font-size="8.2" fill="#3b3b3b" stroke="#3b3b3b" stroke-width="0.07">Corporate</text>
<text transform="translate(650.40,509.30) scale(0.9252,1)" font-size="8.2" fill="#3b3b3b" stroke="#3b3b3b" stroke-width="0.07">Digital Innovation</text>
<line x1="380.80" y1="546.00" x2="750.30" y2="546.00" stroke="#f0f0f0" stroke-width="0.8"/>
<text transform="translate(385.10,533.30) scale(0.9174,1)" font-size="8.2" fill="#3b3b3b" stroke="#3b3b3b" stroke-width="0.07">Alonzo Peterson</text>
<text transform="translate(458.50,533.30) scale(0.9240,1)" font-size="8.2" fill="#3b3b3b" stroke="#3b3b3b" stroke-width="0.07">apeterson</text>
<text transform="translate(508.90,533.30) scale(0.8861,1)" font-size="8.2" fill="#3b3b3b" stroke="#3b3b3b" stroke-width="0.07">BestRun Company US</text>
<text transform="translate(508.90,541.90) scale(0.8066,1)" font-size="8.2" fill="#3b3b3b" stroke="#3b3b3b" stroke-width="0.07">ECP</text>
<text transform="translate(591.80,533.30) scale(0.9019,1)" font-size="8.2" fill="#3b3b3b" stroke="#3b3b3b" stroke-width="0.07">Sales</text>
<text transform="translate(650.40,533.30) scale(0.8718,1)" font-size="8.2" fill="#3b3b3b" stroke="#3b3b3b" stroke-width="0.07">Sales US</text>
</g>
<rect x="750.80" y="348.90" width="4.80" height="6.50" fill="#9a9a9a" rx="2.2"/>
<rect x="382.00" y="533.30" width="260.00" height="4.70" fill="#aaaaaa" rx="2.35"/>
<text transform="translate(797.90,343.10) scale(0.8285,1)" font-size="10.1" fill="#252423" font-weight="700">GROSS PAY PER EMPLOYEE (TOP 15)</text>
<rect x="797.90" y="348.40" width="84.10" height="49.50" fill="#1c3f94"/>
<text transform="translate(801.90,361.00) scale(0.8100,1)" font-size="8.6" fill="#fff" font-weight="700" stroke="#fff" stroke-width="0.12">Jacob Benjamin</text>
<text transform="translate(801.90,395.00) scale(0.8100,1)" font-size="8.6" fill="#fff" font-weight="700" stroke="#fff" stroke-width="0.12">$418.91K</text>
<rect x="797.90" y="399.30" width="84.10" height="47.90" fill="#1f4396"/>
<text transform="translate(801.90,411.00) scale(0.8100,1)" font-size="8.6" fill="#fff" font-weight="700" stroke="#fff" stroke-width="0.12">Wallace Richard</text>
<text transform="translate(801.90,444.00) scale(0.8100,1)" font-size="8.6" fill="#fff" font-weight="700" stroke="#fff" stroke-width="0.12">$410.29K</text>
<rect x="797.90" y="448.80" width="84.10" height="46.20" fill="#2a4d9b"/>
<text transform="translate(801.90,460.70) scale(0.8100,1)" font-size="8.6" fill="#fff" font-weight="700" stroke="#fff" stroke-width="0.12">Ann Presson</text>
<text transform="translate(801.90,491.70) scale(0.8100,1)" font-size="8.6" fill="#fff" font-weight="700" stroke="#fff" stroke-width="0.12">$396.00K</text>
<rect x="797.90" y="496.60" width="84.10" height="42.10" fill="#4464a8"/>
<text transform="translate(801.90,508.30) scale(0.8100,1)" font-size="8.6" fill="#fff" font-weight="700" stroke="#fff" stroke-width="0.12">Olivia King</text>
<text transform="translate(801.90,535.10) scale(0.8100,1)" font-size="8.6" fill="#fff" font-weight="700" stroke="#fff" stroke-width="0.12">$360.00K</text>
<rect x="883.20" y="348.40" width="43.00" height="59.70" fill="#8a9dc9"/>
<text transform="translate(887.20,361.00) scale(0.8100,1)" font-size="8.6" fill="#fff" font-weight="700" stroke="#fff" stroke-width="0.12">Tory Bos<tspan font-size="6.19" letter-spacing="-0.2">...</tspan></text>
<text transform="translate(887.20,405.00) scale(0.8100,1)" font-size="8.6" fill="#fff" font-weight="700" stroke="#fff" stroke-width="0.12">$268.09K</text>
<rect x="927.90" y="348.40" width="31.30" height="59.70" fill="#bcc7de"/>
<text transform="translate(931.90,361.00) scale(0.8100,1)" font-size="8.6" fill="#fff" font-weight="700" stroke="#fff" stroke-width="0.12">Geoff <tspan font-size="6.19" letter-spacing="-0.2">...</tspan></text>
<text transform="translate(931.90,405.00) scale(0.8100,1)" font-size="8.6" fill="#fff" font-weight="700" stroke="#fff" stroke-width="0.12">$196<tspan font-size="6.19" letter-spacing="-0.2">...</tspan></text>
<rect x="960.80" y="348.40" width="29.90" height="59.70" fill="#c0cae0"/>
<text transform="translate(964.80,361.00) scale(0.8100,1)" font-size="8.6" fill="#fff" font-weight="700" stroke="#fff" stroke-width="0.12">Dani<tspan font-size="6.19" letter-spacing="-0.2">...</tspan></text>
<text transform="translate(964.80,405.00) scale(0.8100,1)" font-size="8.6" fill="#fff" font-weight="700" stroke="#fff" stroke-width="0.12">$184<tspan font-size="6.19" letter-spacing="-0.2">...</tspan></text>
<rect x="883.20" y="409.80" width="35.60" height="49.10" fill="#c1cbe1"/>
<text transform="translate(887.20,421.30) scale(0.8100,1)" font-size="8.6" fill="#fff" font-weight="700" stroke="#fff" stroke-width="0.12">Christi<tspan font-size="6.19" letter-spacing="-0.2">...</tspan></text>
<text transform="translate(887.20,456.40) scale(0.8100,1)" font-size="8.6" fill="#fff" font-weight="700" stroke="#fff" stroke-width="0.12">$184.8<tspan font-size="6.19" letter-spacing="-0.2">...</tspan></text>
<rect x="920.50" y="409.80" width="34.40" height="49.10" fill="#c6cfe3"/>
<text transform="translate(924.50,421.30) scale(0.8100,1)" font-size="8.6" fill="#fff" font-weight="700" stroke="#fff" stroke-width="0.12">Linda <tspan font-size="6.19" letter-spacing="-0.2">...</tspan></text>
<text transform="translate(924.50,456.40) scale(0.8100,1)" font-size="8.6" fill="#fff" font-weight="700" stroke="#fff" stroke-width="0.12">$178.2<tspan font-size="6.19" letter-spacing="-0.2">...</tspan></text>
<rect x="956.30" y="409.80" width="34.40" height="49.10" fill="#c7d0e4"/>
<text transform="translate(960.30,421.30) scale(0.8100,1)" font-size="8.6" fill="#fff" font-weight="700" stroke="#fff" stroke-width="0.12">Nancy <tspan font-size="6.19" letter-spacing="-0.2">...</tspan></text>
<text transform="translate(960.30,456.40) scale(0.8100,1)" font-size="8.6" fill="#fff" font-weight="700" stroke="#fff" stroke-width="0.12">$176.4<tspan font-size="6.19" letter-spacing="-0.2">...</tspan></text>
<rect x="883.20" y="460.60" width="43.00" height="38.20" fill="#c9d2e5"/>
<text transform="translate(887.20,472.60) scale(0.8100,1)" font-size="8.6" fill="#fff" font-weight="700" stroke="#fff" stroke-width="0.12">Ryan Har<tspan font-size="6.19" letter-spacing="-0.2">...</tspan></text>
<text transform="translate(887.20,496.20) scale(0.8100,1)" font-size="8.6" fill="#fff" font-weight="700" stroke="#fff" stroke-width="0.12">$174.00K</text>
<rect x="883.20" y="500.20" width="43.00" height="38.50" fill="#cad3e5"/>
<text transform="translate(887.20,512.40) scale(0.8100,1)" font-size="8.6" fill="#fff" font-weight="700" stroke="#fff" stroke-width="0.12">Matthew <tspan font-size="6.19" letter-spacing="-0.2">...</tspan></text>
<text transform="translate(887.20,535.10) scale(0.8100,1)" font-size="8.6" fill="#fff" font-weight="700" stroke="#fff" stroke-width="0.12">$172.49K</text>
<rect x="927.90" y="460.60" width="30.30" height="51.60" fill="#ccd4e6"/>
<text transform="translate(931.90,472.60) scale(0.8100,1)" font-size="8.6" fill="#fff" font-weight="700" stroke="#fff" stroke-width="0.12">Brian<tspan font-size="6.19" letter-spacing="-0.2">...</tspan></text>
<text transform="translate(931.90,510.00) scale(0.8100,1)" font-size="8.6" fill="#fff" font-weight="700" stroke="#fff" stroke-width="0.12">$167<tspan font-size="6.19" letter-spacing="-0.2">...</tspan></text>
<rect x="959.90" y="460.60" width="30.80" height="51.60" fill="#ccd4e6"/>
<text transform="translate(963.90,472.60) scale(0.8100,1)" font-size="8.6" fill="#fff" font-weight="700" stroke="#fff" stroke-width="0.12">Jorda<tspan font-size="6.19" letter-spacing="-0.2">...</tspan></text>
<text transform="translate(963.90,510.00) scale(0.8100,1)" font-size="8.6" fill="#fff" font-weight="700" stroke="#fff" stroke-width="0.12">$167<tspan font-size="6.19" letter-spacing="-0.2">...</tspan></text>
<rect x="927.90" y="513.60" width="62.80" height="25.10" fill="#cdd5e7"/>
<text transform="translate(931.90,526.00) scale(0.8100,1)" font-size="8.6" fill="#fff" font-weight="700" stroke="#fff" stroke-width="0.12">Nettie Smathers</text>
</svg>
</div>
</body></html>
